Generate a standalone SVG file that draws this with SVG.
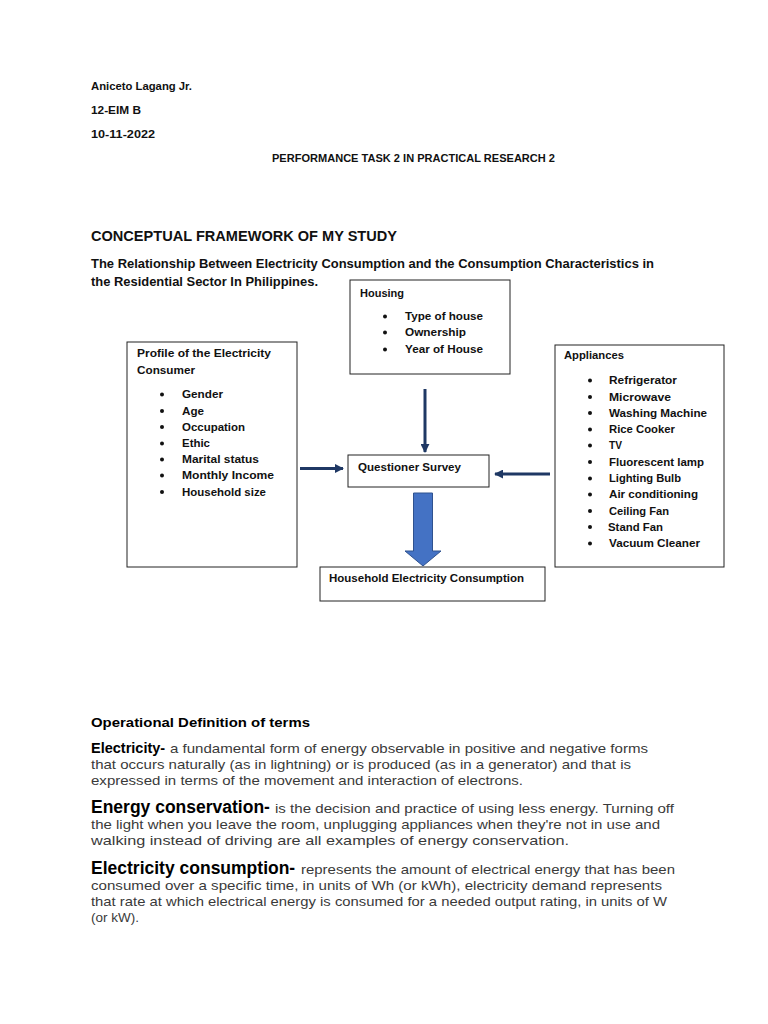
<svg xmlns="http://www.w3.org/2000/svg" width="768" height="1024" viewBox="0 0 768 1024">
<style>
.h{font-family:"Liberation Sans",Arial,sans-serif;font-weight:bold;font-size:11.5px;fill:#111}
.b{font-family:"Liberation Sans",Arial,sans-serif;font-weight:bold;font-size:12px;fill:#111}
.t13{font-family:"Liberation Sans",Arial,sans-serif;font-weight:bold;font-size:14px;fill:#111}
.box{fill:#fff;stroke:#222;stroke-width:1}
.dot{fill:#111}
.body{font-family:"Liberation Sans",Arial,sans-serif;font-size:13.5px;fill:#3a3a3a}
.term{font-family:"Liberation Sans",Arial,sans-serif;font-weight:bold;fill:#000}
.conn{stroke:#1F3864;stroke-width:3;fill:none}
</style>
<defs>
<marker id="ah" viewBox="0 0 10 10" refX="9" refY="5" markerWidth="3" markerHeight="3" orient="auto" markerUnits="strokeWidth">
<path d="M0,0 L10,5 L0,10 z" fill="#1F3864"/>
</marker>
</defs>
<rect width="768" height="1024" fill="#fff"/>

<g id="header">
<text class="h" x="91" y="90" textLength="101" lengthAdjust="spacingAndGlyphs">Aniceto Lagang Jr.</text>
<text class="h" x="91" y="114" textLength="50" lengthAdjust="spacingAndGlyphs">12-EIM B</text>
<text class="h" x="91" y="138" textLength="64" lengthAdjust="spacingAndGlyphs">10-11-2022</text>
<text class="h" x="272" y="162" textLength="283" lengthAdjust="spacingAndGlyphs">PERFORMANCE TASK  2 IN PRACTICAL RESEARCH 2</text>
<text class="t13" x="91" y="241" textLength="306" lengthAdjust="spacingAndGlyphs">CONCEPTUAL FRAMEWORK OF MY STUDY</text>
<text class="b" x="91" y="268" textLength="563" lengthAdjust="spacingAndGlyphs">The Relationship Between Electricity Consumption and the Consumption Characteristics in</text>
<text class="b" x="91" y="286" textLength="227" lengthAdjust="spacingAndGlyphs">the Residential Sector In Philippines.</text>
</g>

<g id="housing">
<rect class="box" x="350" y="280" width="160" height="94"/>
<text class="h" x="360" y="297" textLength="44" lengthAdjust="spacingAndGlyphs">Housing</text>
<circle class="dot" cx="385" cy="316.5" r="2"/>
<circle class="dot" cx="385" cy="332.5" r="2"/>
<circle class="dot" cx="385" cy="349.5" r="2"/>
<text class="h" x="405" y="320" textLength="78" lengthAdjust="spacingAndGlyphs">Type of house</text>
<text class="h" x="405" y="336" textLength="61" lengthAdjust="spacingAndGlyphs">Ownership</text>
<text class="h" x="405" y="353" textLength="78" lengthAdjust="spacingAndGlyphs">Year of House</text>
</g>

<g id="profile">
<rect class="box" x="127" y="342" width="170" height="225"/>
<text class="h" x="137" y="357" textLength="134" lengthAdjust="spacingAndGlyphs">Profile of the Electricity</text>
<text class="h" x="137" y="374" textLength="58" lengthAdjust="spacingAndGlyphs">Consumer</text>
<g>
<circle class="dot" cx="162" cy="394.5" r="2"/>
<circle class="dot" cx="162" cy="411" r="2"/>
<circle class="dot" cx="162" cy="427" r="2"/>
<circle class="dot" cx="162" cy="443.5" r="2"/>
<circle class="dot" cx="162" cy="459.5" r="2"/>
<circle class="dot" cx="162" cy="475.5" r="2"/>
<circle class="dot" cx="162" cy="492" r="2"/>
</g>
<text class="h" x="182" y="398" textLength="41" lengthAdjust="spacingAndGlyphs">Gender</text>
<text class="h" x="182" y="415" textLength="22" lengthAdjust="spacingAndGlyphs">Age</text>
<text class="h" x="182" y="431" textLength="63" lengthAdjust="spacingAndGlyphs">Occupation</text>
<text class="h" x="182" y="447" textLength="28" lengthAdjust="spacingAndGlyphs">Ethic</text>
<text class="h" x="182" y="463" textLength="77" lengthAdjust="spacingAndGlyphs">Marital status</text>
<text class="h" x="182" y="479" textLength="92" lengthAdjust="spacingAndGlyphs">Monthly Income</text>
<text class="h" x="182" y="496" textLength="84" lengthAdjust="spacingAndGlyphs">Household size</text>
</g>

<g id="appliances">
<rect class="box" x="555" y="345" width="169" height="222"/>
<text class="h" x="564" y="359" textLength="60" lengthAdjust="spacingAndGlyphs">Appliances</text>
<g>
<circle class="dot" cx="590" cy="380.5" r="2"/>
<circle class="dot" cx="590" cy="397" r="2"/>
<circle class="dot" cx="590" cy="413" r="2"/>
<circle class="dot" cx="590" cy="429.5" r="2"/>
<circle class="dot" cx="590" cy="445.5" r="2"/>
<circle class="dot" cx="590" cy="462" r="2"/>
<circle class="dot" cx="590" cy="478.5" r="2"/>
<circle class="dot" cx="590" cy="494.5" r="2"/>
<circle class="dot" cx="590" cy="511" r="2"/>
<circle class="dot" cx="590" cy="527" r="2"/>
<circle class="dot" cx="590" cy="543.5" r="2"/>
</g>
<text class="h" x="609" y="384" textLength="68" lengthAdjust="spacingAndGlyphs">Refrigerator</text>
<text class="h" x="609" y="400.5" textLength="62" lengthAdjust="spacingAndGlyphs">Microwave</text>
<text class="h" x="609" y="416.5" textLength="98" lengthAdjust="spacingAndGlyphs">Washing Machine</text>
<text class="h" x="609" y="433" textLength="66" lengthAdjust="spacingAndGlyphs">Rice Cooker</text>
<text class="h" x="609" y="449" textLength="13" lengthAdjust="spacingAndGlyphs">TV</text>
<text class="h" x="609" y="465.5" textLength="95" lengthAdjust="spacingAndGlyphs">Fluorescent lamp</text>
<text class="h" x="609" y="482" textLength="72" lengthAdjust="spacingAndGlyphs">Lighting Bulb</text>
<text class="h" x="609" y="498" textLength="89" lengthAdjust="spacingAndGlyphs">Air conditioning</text>
<text class="h" x="609" y="514.5" textLength="60" lengthAdjust="spacingAndGlyphs">Ceiling Fan</text>
<text class="h" x="608" y="530.5" textLength="55" lengthAdjust="spacingAndGlyphs">Stand Fan</text>
<text class="h" x="609" y="547" textLength="91" lengthAdjust="spacingAndGlyphs">Vacuum Cleaner</text>
</g>

<g id="survey">
<rect class="box" x="348" y="455" width="141" height="32"/>
<text class="h" x="358" y="471" textLength="103" lengthAdjust="spacingAndGlyphs">Questioner Survey</text>
</g>

<g id="consumption">
<rect class="box" x="320" y="567" width="225" height="34"/>
<text class="h" x="329" y="582" textLength="195" lengthAdjust="spacingAndGlyphs">Household Electricity Consumption</text>
</g>

<g id="connectors">
<line class="conn" x1="425" y1="389" x2="425" y2="452" marker-end="url(#ah)"/>
<line class="conn" x1="300" y1="468.5" x2="343" y2="468.5" marker-end="url(#ah)"/>
<line class="conn" x1="550" y1="474" x2="495" y2="474" marker-end="url(#ah)"/>
<path d="M413.5,493 L432.5,493 L432.5,551 L441,551 L423,566 L405,551 L413.5,551 Z" fill="#4472C4" stroke="#2F528F" stroke-width="1"/>
</g>

<g id="definitions">
<text class="term" x="91" y="727" font-size="13.5" textLength="219" lengthAdjust="spacingAndGlyphs">Operational Definition of terms</text>

<text class="term" x="91" y="753" font-size="14.5">Electricity-</text>
<text class="body" x="170" y="753" textLength="478" lengthAdjust="spacingAndGlyphs">a fundamental form of energy observable in positive and negative forms</text>
<text class="body" x="91" y="769" textLength="540" lengthAdjust="spacingAndGlyphs">that occurs naturally (as in lightning) or is produced (as in a generator) and that is</text>
<text class="body" x="91" y="785" textLength="432" lengthAdjust="spacingAndGlyphs">expressed in terms of the movement and interaction of electrons.</text>

<text class="term" x="91" y="813" font-size="17.5">Energy conservation-</text>
<text class="body" x="275" y="813" textLength="399" lengthAdjust="spacingAndGlyphs">is the decision and practice of using less energy. Turning off</text>
<text class="body" x="91" y="829" textLength="569" lengthAdjust="spacingAndGlyphs">the light when you leave the room, unplugging appliances when they're not in use and</text>
<text class="body" x="91" y="845" textLength="478" lengthAdjust="spacingAndGlyphs">walking instead of driving are all examples of energy conservation.</text>

<text class="term" x="91" y="874" font-size="17.5">Electricity consumption-</text>
<text class="body" x="301" y="874" textLength="374" lengthAdjust="spacingAndGlyphs">represents the amount of electrical energy that has been</text>
<text class="body" x="91" y="890" textLength="571" lengthAdjust="spacingAndGlyphs">consumed over a specific time, in units of Wh (or kWh), electricity demand represents</text>
<text class="body" x="91" y="906" textLength="576" lengthAdjust="spacingAndGlyphs">that rate at which electrical energy is consumed for a needed output rating, in units of W</text>
<text class="body" x="91" y="922">(or kW).</text>
</g>
</svg>
